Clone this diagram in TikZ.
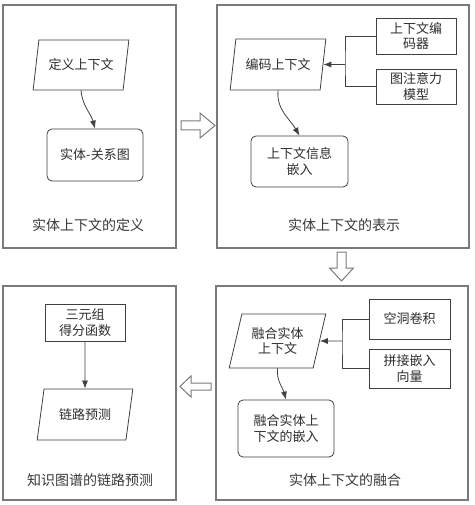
\documentclass[tikz,border=0pt]{standalone}
\usepackage{fontspec}
\newfontfamily\cjk{Noto Sans CJK SC}
\usetikzlibrary{shapes.geometric,arrows.meta}
\definecolor{frame}{HTML}{7A7A7A}
\definecolor{boxline}{HTML}{404040}
\definecolor{txt}{HTML}{2E2E2E}
\definecolor{lbl}{HTML}{3A3A3A}
\tikzset{
  panel/.style={draw=frame,line width=1.3pt},
  para/.style={trapezium,trapezium left angle=72,trapezium right angle=108,trapezium stretches=true,
    draw=boxline,line width=0.8pt,minimum width=96pt,minimum height=50pt,inner sep=1pt,
    font=\cjk\fontsize{13}{15.5}\selectfont,text=txt,align=center},
  rbox/.style={draw=boxline,line width=0.8pt,rounded corners=5pt,inner sep=1pt,
    font=\cjk\fontsize{13}{15.5}\selectfont,text=txt,align=center},
  sbox/.style={draw=boxline,line width=0.8pt,inner sep=1pt,
    font=\cjk\fontsize{13}{15.5}\selectfont,text=txt,align=center},
  plabel/.style={font=\cjk\fontsize{14}{16}\selectfont,text=lbl},
  conn/.style={draw=boxline,line width=0.8pt},
  arr/.style={conn,-{Latex[length=8pt,width=6pt]}},
  hollow/.style={draw=frame,line width=1pt,line join=miter,fill=white},
}
\begin{document}
\begin{tikzpicture}[x=1pt,y=-1pt]
\useasboundingbox (0,0) rectangle (474,505);
\fill[white] (0,0) rectangle (474,505);
% panels
\draw[panel] (3,5) rectangle (176,248);
\draw[panel] (217,5) rectangle (469,248);
\draw[panel] (3,286) rectangle (176,500);
\draw[panel] (216,286) rectangle (468,500);
% hollow arrows
\draw[hollow] (181,121) -- (200,121) -- (200,113) -- (215,125.5) -- (200,138) -- (200,130) -- (181,130) -- cycle;
\draw[hollow] (337,252) -- (346,252) -- (346,268) -- (353.5,268) -- (341.5,281) -- (329.5,268) -- (337,268) -- cycle;
\draw[hollow] (211,383) -- (191,383) -- (191,376) -- (180,386.5) -- (191,397) -- (191,390) -- (211,390) -- cycle;
% panel 1
\node[para] (p1) at (81,65) {定义上下文};
\node[rbox,minimum width=96pt,minimum height=52pt] (r1) at (95,155) {实体-关系图};
\draw[arr] (p1.south) to[out=-85,in=105] (r1.north);
\node[plabel] (l1) at (88,225) {实体上下文的定义};
% panel 2
\node[para,minimum height=51pt] (p2) at (278,64.5) {编码上下文};
\node[sbox,minimum width=80pt,minimum height=36pt] (enc) at (416,36) {上下文编\\码器};
\node[sbox,minimum width=80pt,minimum height=35pt] (gat) at (416,86.5) {图注意力\\模型};
\coordinate (j2) at (345,64.5);
\draw[conn] (enc.west) -| (j2) |- (gat.west);
\draw[arr] (j2) -- (p2);
\node[rbox,minimum width=97pt,minimum height=51pt] (r2) at (299.5,161.5) {上下文信息\\嵌入};
\draw[arr] (p2.south) to[out=-95,in=120] (r2.north);
\node[plabel] (l2) at (344,225) {实体上下文的表示};
% panel 4
\node[para,minimum height=54pt,minimum width=97pt] (p4) at (277.5,341) {融合实体\\上下文};
\node[sbox,minimum width=81pt,minimum height=40pt] (conv) at (409.5,319) {空洞卷积};
\node[sbox,minimum width=81pt,minimum height=39pt] (cat) at (409.5,368.5) {拼接嵌入\\向量};
\coordinate (j4) at (342,341);
\draw[conn] (conv.west) -| (j4) |- (cat.west);
\draw[arr] (j4) -- (p4);
\node[rbox,minimum width=96pt,minimum height=57pt] (r4) at (286,428.5) {融合实体上\\下文的嵌入};
\draw[arr] (p4.south) to[out=-95,in=105] (r4.north);
\node[plabel] (l4) at (345,480) {实体上下文的融合};
% panel 3
\node[sbox,minimum width=80pt,minimum height=37pt] (tri) at (85,322.5) {三元组\\得分函数};
\node[para,minimum height=51pt] (p3) at (85,414.5) {链路预测};
\draw[arr] (tri.south) -- (p3.north);
\node[plabel] (l3) at (90,480) {知识图谱的链路预测};
\end{tikzpicture}
\end{document}
